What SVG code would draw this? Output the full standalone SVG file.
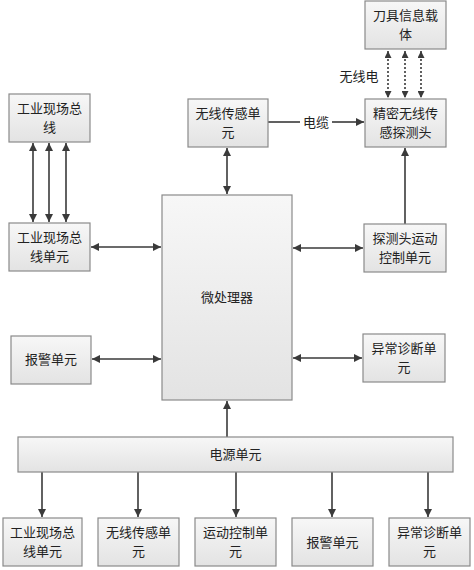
<svg xmlns="http://www.w3.org/2000/svg" width="474" height="570" viewBox="0 0 474 570">
<defs>
<linearGradient id="g" x1="0" y1="0" x2="0" y2="1">
<stop offset="0" stop-color="#f7f7f7"/>
<stop offset="1" stop-color="#e3e3e3"/>
</linearGradient>
<marker id="ah" viewBox="0 0 10 10" refX="10" refY="5" markerWidth="8" markerHeight="8" markerUnits="userSpaceOnUse" orient="auto-start-reverse">
<path d="M0,0 L10,5 L0,10 z" fill="#3a3a3a"/>
</marker>
<marker id="ahs" viewBox="0 0 10 10" refX="10" refY="5" markerWidth="7" markerHeight="7" markerUnits="userSpaceOnUse" orient="auto-start-reverse">
<path d="M0,0 L10,5 L0,10 z" fill="#3a3a3a"/>
</marker>
</defs>
<style>
.box{fill:url(#g);stroke:#8a8a8a;stroke-width:1.2}
.t{font-family:"Noto Sans CJK SC","Noto Sans",sans-serif;font-size:13px;fill:#222;text-anchor:middle}
.c{stroke:#3a3a3a;stroke-width:1.6;fill:none}
.d{stroke:#3a3a3a;stroke-width:1.6;fill:none;stroke-dasharray:2 2}
</style>
<rect width="474" height="570" fill="#fff"/>

<g id="connectors">
<line class="d" x1="388" y1="51" x2="388" y2="98" marker-start="url(#ahs)" marker-end="url(#ahs)"/>
<line class="d" x1="405" y1="51" x2="405" y2="98" marker-start="url(#ahs)" marker-end="url(#ahs)"/>
<line class="d" x1="421" y1="51" x2="421" y2="98" marker-start="url(#ahs)" marker-end="url(#ahs)"/>
<text class="t" x="359" y="81">无线电</text>
<line class="c" x1="268" y1="122" x2="300" y2="122"/>
<line class="c" x1="332" y1="122" x2="364" y2="122" marker-end="url(#ah)"/>
<text class="t" x="316" y="127">电缆</text>
<line class="c" x1="227" y1="148" x2="227" y2="194" marker-start="url(#ah)" marker-end="url(#ah)"/>
<line class="c" x1="405" y1="224" x2="405" y2="148" marker-end="url(#ah)"/>
<line class="c" x1="33" y1="143" x2="33" y2="222" marker-start="url(#ah)" marker-end="url(#ah)"/>
<line class="c" x1="49" y1="143" x2="49" y2="222" marker-start="url(#ah)" marker-end="url(#ah)"/>
<line class="c" x1="66" y1="143" x2="66" y2="222" marker-start="url(#ah)" marker-end="url(#ah)"/>
<line class="c" x1="91" y1="247" x2="161" y2="247" marker-start="url(#ah)" marker-end="url(#ah)"/>
<line class="c" x1="293" y1="248" x2="363" y2="248" marker-start="url(#ah)" marker-end="url(#ah)"/>
<line class="c" x1="92" y1="359" x2="161" y2="359" marker-start="url(#ah)" marker-end="url(#ah)"/>
<line class="c" x1="293" y1="358" x2="362" y2="358" marker-start="url(#ah)" marker-end="url(#ah)"/>
<line class="c" x1="227" y1="437" x2="227" y2="401" marker-end="url(#ah)"/>
<line class="c" x1="42" y1="472" x2="42" y2="517" marker-end="url(#ah)"/>
<line class="c" x1="138" y1="472" x2="138" y2="517" marker-end="url(#ah)"/>
<line class="c" x1="236" y1="472" x2="236" y2="517" marker-end="url(#ah)"/>
<line class="c" x1="332" y1="472" x2="332" y2="517" marker-end="url(#ah)"/>
<line class="c" x1="428" y1="472" x2="428" y2="517" marker-end="url(#ah)"/>
</g>

<g id="tool-carrier"><rect class="box" x="365" y="1" width="81" height="48"/><text class="t" x="405.5" y="19.5">刀具信息载</text><text class="t" x="405.5" y="38.5">体</text></g>
<g id="probe"><rect class="box" x="365" y="99" width="81" height="48"/><text class="t" x="405.5" y="117.5">精密无线传</text><text class="t" x="405.5" y="136.5">感探测头</text></g>
<g id="wireless-unit"><rect class="box" x="188" y="99" width="80" height="48"/><text class="t" x="228" y="117.5">无线传感单</text><text class="t" x="228" y="136.5">元</text></g>
<g id="fieldbus"><rect class="box" x="9" y="94" width="81" height="48"/><text class="t" x="49.5" y="112.5">工业现场总</text><text class="t" x="49.5" y="131.5">线</text></g>
<g id="fieldbus-unit"><rect class="box" x="9" y="223" width="81" height="48"/><text class="t" x="49.5" y="241.5">工业现场总</text><text class="t" x="49.5" y="260.5">线单元</text></g>
<g id="mcu"><rect class="box" x="162" y="195" width="130" height="205"/><text class="t" x="227" y="302">微处理器</text></g>
<g id="probe-motion"><rect class="box" x="364" y="224" width="82" height="48"/><text class="t" x="405" y="242.5">探测头运动</text><text class="t" x="405" y="261.5">控制单元</text></g>
<g id="alarm"><rect class="box" x="11" y="336" width="80" height="48"/><text class="t" x="51" y="364">报警单元</text></g>
<g id="diagnosis"><rect class="box" x="363" y="334" width="82" height="48"/><text class="t" x="404" y="352.5">异常诊断单</text><text class="t" x="404" y="371.5">元</text></g>
<g id="power"><rect class="box" x="18" y="437" width="435" height="35"/><text class="t" x="235.5" y="459">电源单元</text></g>
<g id="b1"><rect class="box" x="3" y="518" width="79" height="48"/><text class="t" x="42.5" y="536.5">工业现场总</text><text class="t" x="42.5" y="555.5">线单元</text></g>
<g id="b2"><rect class="box" x="98" y="518" width="81" height="48"/><text class="t" x="138.5" y="536.5">无线传感单</text><text class="t" x="138.5" y="555.5">元</text></g>
<g id="b3"><rect class="box" x="195" y="518" width="81" height="48"/><text class="t" x="235.5" y="536.5">运动控制单</text><text class="t" x="235.5" y="555.5">元</text></g>
<g id="b4"><rect class="box" x="292" y="518" width="81" height="48"/><text class="t" x="332.5" y="547">报警单元</text></g>
<g id="b5"><rect class="box" x="389" y="518" width="81" height="48"/><text class="t" x="429.5" y="536.5">异常诊断单</text><text class="t" x="429.5" y="555.5">元</text></g>
</svg>
